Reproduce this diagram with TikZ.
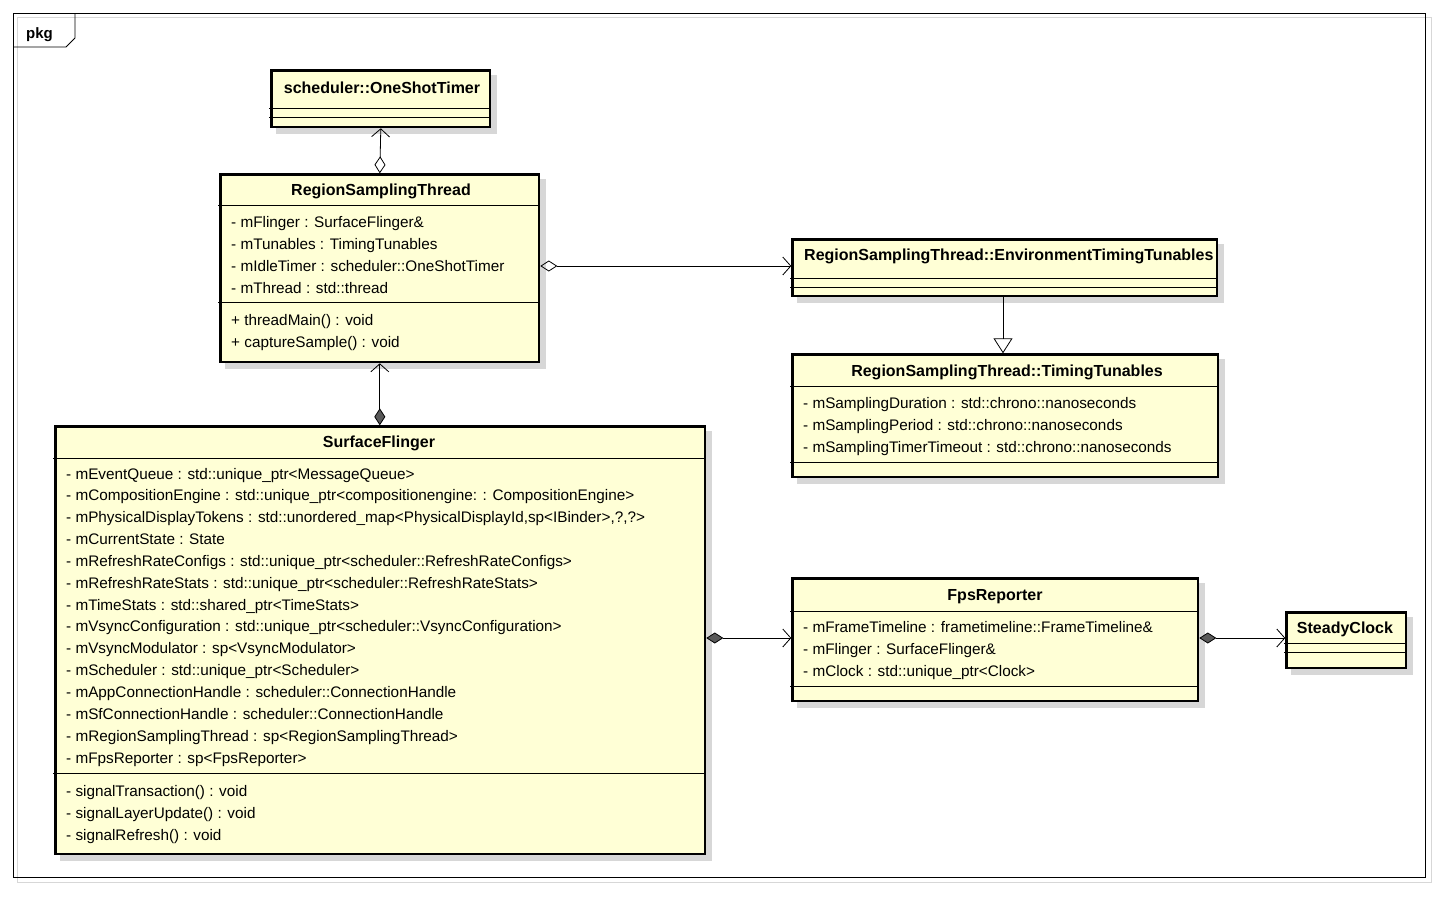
\documentclass[tikz,border=0pt]{standalone}
\usepackage{fontspec}
\setmainfont{Liberation Sans}
\usetikzlibrary{arrows.meta}
\definecolor{clsfill}{RGB}{255,255,214}
\definecolor{shadowgray}{RGB}{215,215,215}
\tikzset{
  x=1pt, y=-1pt,
  cls/.style={draw=black, line width=2.6pt, fill=clsfill, anchor=north west, inner sep=0pt},
  attr/.style={anchor=base west, inner sep=0pt, font=\fontsize{15.3}{17}\selectfont},
  cname/.style={anchor=base, inner sep=0pt, font=\fontsize{16}{18}\selectfont\bfseries},
  sep/.style={line width=0.8pt},
  agg/.style={{Diamond[open,length=17pt,width=11pt,line width=0.8pt]}-{Straight Barb[length=8pt,width=18pt]}, line width=0.8pt},
  comp/.style={{Diamond[fill=gray!70!black,length=17pt,width=11pt,line width=0.8pt]}-{Straight Barb[length=8pt,width=18pt]}, line width=0.8pt},
  gen/.style={-{Triangle[open,length=15pt,width=19pt,line width=0.8pt]}, line width=0.8pt},
}
% box: name, x, y, w, h
\newcommand{\umlbox}[5]{%
  \fill[shadowgray] (#2+7,#3+7) rectangle ++(#4,#5);
  \node[cls, minimum width=#4pt-2.6pt, minimum height=#5pt-2.6pt] (#1) at (#2+1.3,#3+1.3) {};}
\begin{document}
\begin{tikzpicture}
\useasboundingbox (0,0) rectangle (1438,916);
\fill[white] (0,0) rectangle (1438,916);
% package frame
\draw[shadowgray, line width=1pt] (17,17) rectangle (1431,882);
\draw[line width=0.8pt] (13,13) rectangle (1425,877);
\draw[line width=0.8pt] (13,47) -- (66,47) -- (75,38) -- (75,13);
\node[anchor=base west, inner sep=0pt, font=\fontsize{15}{16}\selectfont\bfseries] (pkg) at (26,38) {pkg};

% scheduler::OneShotTimer
\umlbox{ost}{269}{68}{221}{59}
\node[cname] (ostn) at (382,93) {scheduler::OneShotTimer};
\draw[sep] (269,108) -- (490,108); \draw[sep] (269,117) -- (490,117);

% RegionSamplingThread
\umlbox{rst}{218}{172}{321}{190}
\node[cname] (rstn) at (381,195) {RegionSamplingThread};
\draw[sep] (218,205) -- (539,205);
\node[attr] (r1) at (231,227) {- mFlinger : SurfaceFlinger\&};
\node[attr] (r2) at (231,249) {- mTunables : TimingTunables};
\node[attr] (r3) at (231,271) {- mIdleTimer : scheduler::OneShotTimer};
\node[attr] (r4) at (231,293) {- mThread : std::thread};
\draw[sep] (218,302) -- (539,302);
\node[attr] (r5) at (231,325) {+ threadMain() : void};
\node[attr] (r6) at (231,347) {+ captureSample() : void};

% EnvironmentTimingTunables
\umlbox{env}{790}{237}{427}{59}
\node[cname, anchor=base west] (envn) at (804,260) {RegionSamplingThread::EnvironmentTimingTunables};
\draw[sep] (790,278) -- (1217,278); \draw[sep] (790,287) -- (1217,287);

% TimingTunables
\umlbox{tt}{790}{352}{428}{125}
\node[cname] (ttn) at (1007,376) {RegionSamplingThread::TimingTunables};
\draw[sep] (790,386) -- (1218,386);
\node[attr] (t1) at (803,408) {- mSamplingDuration : std::chrono::nanoseconds};
\node[attr] (t2) at (803,430) {- mSamplingPeriod : std::chrono::nanoseconds};
\node[attr] (t3) at (803,452) {- mSamplingTimerTimeout : std::chrono::nanoseconds};
\draw[sep] (790,462) -- (1218,462);

% SurfaceFlinger
\umlbox{sf}{53}{424}{652}{430}
\node[cname] (sfn) at (379,447) {SurfaceFlinger};
\draw[sep] (53,458) -- (705,458);
\foreach \t [count=\i from 0] in {
  {- mEventQueue : std::unique\_ptr<MessageQueue>},
  {- mCompositionEngine : std::unique\_ptr<compositionengine: : CompositionEngine>},
  {- mPhysicalDisplayTokens : std::unordered\_map<PhysicalDisplayId,sp<IBinder>,?,?>},
  {- mCurrentState : State},
  {- mRefreshRateConfigs : std::unique\_ptr<scheduler::RefreshRateConfigs>},
  {- mRefreshRateStats : std::unique\_ptr<scheduler::RefreshRateStats>},
  {- mTimeStats : std::shared\_ptr<TimeStats>},
  {- mVsyncConfiguration : std::unique\_ptr<scheduler::VsyncConfiguration>},
  {- mVsyncModulator : sp<VsyncModulator>},
  {- mScheduler : std::unique\_ptr<Scheduler>},
  {- mAppConnectionHandle : scheduler::ConnectionHandle},
  {- mSfConnectionHandle : scheduler::ConnectionHandle},
  {- mRegionSamplingThread : sp<RegionSamplingThread>},
  {- mFpsReporter : sp<FpsReporter>}}
  \node[attr] (sa\i) at (66,479+21.85*\i) {\t};
\draw[sep] (53,773) -- (705,773);
\node[attr] (so1) at (66,796) {- signalTransaction() : void};
\node[attr] (so2) at (66,818) {- signalLayerUpdate() : void};
\node[attr] (so3) at (66,840) {- signalRefresh() : void};

% FpsReporter
\umlbox{fps}{790}{576}{408}{125}
\node[cname] (fpsn) at (995,600) {FpsReporter};
\draw[sep] (790,611) -- (1198,611);
\node[attr] (f1) at (803,632) {- mFrameTimeline : frametimeline::FrameTimeline\&};
\node[attr] (f2) at (803,654) {- mFlinger : SurfaceFlinger\&};
\node[attr] (f3) at (803,676) {- mClock : std::unique\_ptr<Clock>};
\draw[sep] (790,686) -- (1198,686);

% SteadyClock
\umlbox{sc}{1284}{610}{122}{58}
\node[cname] (scn) at (1345,633) {SteadyClock};
\draw[sep] (1284,643) -- (1406,643); \draw[sep] (1284,652) -- (1406,652);

% connectors
\draw[agg] (rst.north) -- (ost.south);
\draw[agg] (rst.east |- 0,266) -- (env.west |- 0,266);
\draw[gen] (env.south -| 1003,0) -- (tt.north -| 1003,0);
\draw[comp] (sf.north -| rst.south) -- (rst.south);
\draw[comp] (sf.east |- 0,638) -- (fps.west |- 0,638);
\draw[comp] (fps.east |- 0,638) -- (sc.west |- 0,638);
\end{tikzpicture}
\end{document}
